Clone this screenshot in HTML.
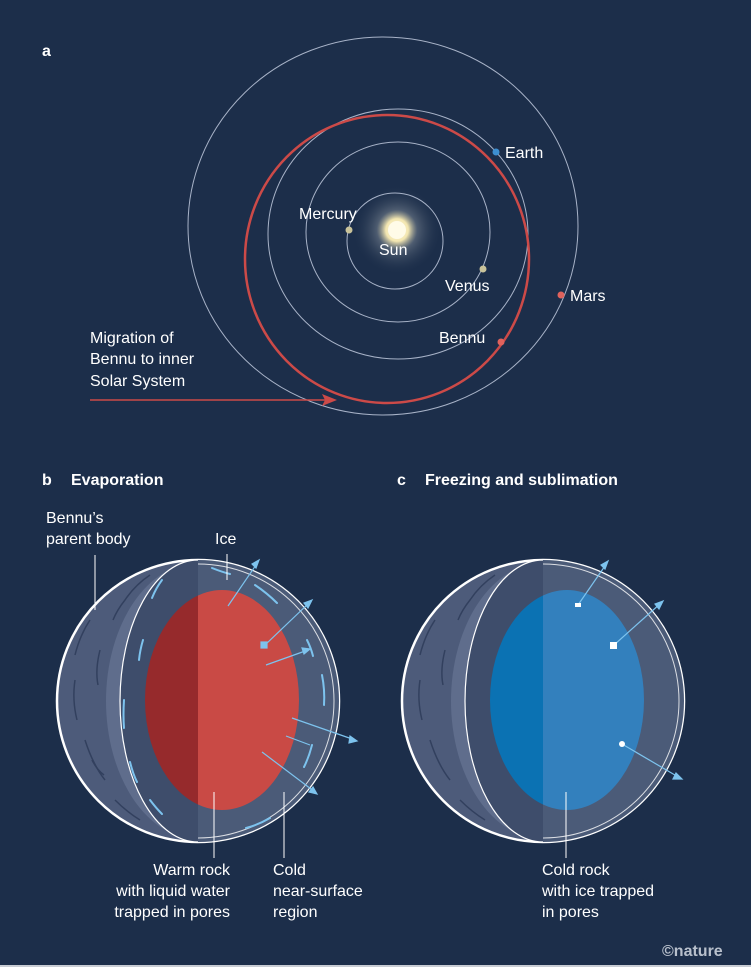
<!DOCTYPE html>
<html><head><meta charset="utf-8"><style>
html,body{margin:0;padding:0;background:#1c2e4a;}
svg{display:block}
text{font-family:"Liberation Sans",sans-serif;fill:#fff;font-size:16px}
.b{font-weight:bold}
</style></head><body>
<svg width="751" height="967" viewBox="0 0 751 967" xmlns="http://www.w3.org/2000/svg">
<defs>
<radialGradient id="glow" cx="0.5" cy="0.5" r="0.5">
<stop offset="0" stop-color="#fffbe0"/>
<stop offset="0.25" stop-color="#f3e6b0"/>
<stop offset="0.45" stop-color="#6f7b8a" stop-opacity="0.6"/>
<stop offset="1" stop-color="#1c2e4a" stop-opacity="0"/>
</radialGradient>
<clipPath id="lb"><rect x="0" y="0" width="198" height="967"/></clipPath>
<clipPath id="rb"><rect x="198" y="0" width="300" height="967"/></clipPath>
<clipPath id="lc"><rect x="0" y="0" width="543" height="967"/></clipPath>
<clipPath id="rc"><rect x="543" y="0" width="300" height="967"/></clipPath>
</defs>
<rect width="751" height="967" fill="#1c2e4a"/>
<rect x="0" y="965" width="751" height="2" fill="#c8ccd4"/>

<!-- panel a -->
<text x="42" y="56" class="b" font-size="17">a</text>
<circle cx="397" cy="230" r="45" fill="url(#glow)"/>
<circle cx="397" cy="230" r="9" fill="#fffbe8"/>
<g fill="none" stroke="#a8b3c8" stroke-width="1">
<ellipse cx="395" cy="241" rx="48" ry="48"/>
<ellipse cx="398" cy="232" rx="92" ry="90"/>
<ellipse cx="398" cy="234" rx="130" ry="125"/>
<ellipse cx="383" cy="226" rx="195" ry="189"/>
</g>
<ellipse cx="387" cy="259" rx="142" ry="144" fill="none" stroke="#cc4a48" stroke-width="2.5"/>
<line x1="90" y1="400" x2="325" y2="400" stroke="#cc4a48" stroke-width="1.5"/>
<polygon points="337,400 322,394 325,400 322,406" fill="#cc4a48"/>
<circle cx="496" cy="152" r="3.5" fill="#3d8fd1"/>
<circle cx="349" cy="230" r="3.5" fill="#c9c39a"/>
<circle cx="483" cy="269" r="3.5" fill="#c9c39a"/>
<circle cx="561" cy="295" r="3.5" fill="#e0625c"/>
<circle cx="501" cy="342" r="3.5" fill="#e0625c"/>
<text x="505" y="158">Earth</text>
<text x="299" y="219">Mercury</text>
<text x="379" y="255">Sun</text>
<text x="445" y="291">Venus</text>
<text x="570" y="301">Mars</text>
<text x="439" y="343">Bennu</text>
<text x="90" y="343">Migration of</text>
<text x="90" y="364">Bennu to inner</text>
<text x="90" y="386">Solar System</text>

<!-- panel b -->
<text x="42" y="485" class="b" font-size="17">b</text>
<text x="71" y="485" class="b" font-size="16">Evaporation</text>
<text x="46" y="523">Bennu’s</text>
<text x="46" y="544">parent body</text>
<text x="215" y="544">Ice</text>

<g>
<circle cx="198" cy="701" r="141" fill="#4d5b7a" stroke="#fff" stroke-width="2.5"/>
<path d="M198,563 A92,138 0 0 0 198,839 Z" fill="#5f6d8c"/>
<g stroke="#2c3a58" stroke-width="1.5" fill="none" opacity="0.8">
<path d="M150,575 q-15,10 -25,25 q-8,10 -12,20"/><path d="M90,620 q-10,15 -15,35"/>
<path d="M75,680 q-3,20 2,40"/><path d="M85,740 q8,25 20,40"/><path d="M115,800 q12,12 25,20"/>
<path d="M100,650 q-5,20 -2,35"/><path d="M92,760 q5,10 12,15"/>
</g>
<path d="M198,560 A78,141 0 0 0 198,842 A141,141 0 0 0 198,560 Z" fill="#3e4d6b" stroke="#fff" stroke-width="1.2"/>
<path d="M198,560 A141,141 0 0 1 198,842 Z" fill="#4b5b78"/>
<path d="M198,564 A136,137 0 0 1 198,838" fill="none" stroke="#fff" stroke-width="1" opacity="0.8"/>
<ellipse cx="222" cy="700" rx="77" ry="110" fill="#c94a45" clip-path="url(#rb)"/>
<ellipse cx="222" cy="700" rx="77" ry="110" fill="#962a2c" clip-path="url(#lb)"/>
<g stroke="#7dc3ee" stroke-width="2" fill="none" stroke-linecap="round">
<path d="M212,568 q10,4 18,6"/><path d="M255,585 q12,8 22,18"/><path d="M307,640 q4,8 6,16"/>
<path d="M322,675 q3,15 2,30"/><path d="M312,745 q-3,12 -8,22"/><path d="M270,818 q-12,7 -24,10"/>
<path d="M162,580 q-6,8 -10,18"/><path d="M143,640 q-3,10 -4,20"/><path d="M124,700 q-1,15 0,28"/>
<path d="M130,762 q3,12 7,20"/><path d="M150,800 q6,8 12,14"/>
</g>
<g stroke="#7dc3ee" stroke-width="1.2" fill="#7dc3ee">
<line x1="228" y1="606" x2="258" y2="562"/><polygon points="259,560 252,564 256,568"/>
<line x1="265" y1="645" x2="310" y2="602"/><polygon points="312,600 304,603 308,608"/>
<line x1="266" y1="665" x2="308" y2="650"/><polygon points="310,649 302,648 304,654"/>
<line x1="292" y1="718" x2="355" y2="740"/><polygon points="357,741 350,736 349,743"/>
<line x1="286" y1="736" x2="310" y2="745"/>
<line x1="262" y1="752" x2="315" y2="792"/><polygon points="317,794 313,787 309,792"/>
<rect x="261" y="642" width="6" height="6"/>
</g>
</g>
<line x1="95" y1="555" x2="95" y2="610" stroke="#fff" stroke-width="1"/>
<line x1="227" y1="554" x2="227" y2="580" stroke="#fff" stroke-width="1"/>
<line x1="214" y1="792" x2="214" y2="858" stroke="#fff" stroke-width="1"/>
<line x1="284" y1="792" x2="284" y2="858" stroke="#fff" stroke-width="1"/>
<text x="230" y="875" text-anchor="end">Warm rock</text>
<text x="230" y="896" text-anchor="end">with liquid water</text>
<text x="230" y="917" text-anchor="end">trapped in pores</text>
<text x="273" y="875">Cold</text>
<text x="273" y="896">near-surface</text>
<text x="273" y="917">region</text>

<!-- panel c -->
<text x="397" y="485" class="b" font-size="17">c</text>
<text x="425" y="485" class="b" font-size="16">Freezing and sublimation</text>
<g>
<circle cx="543" cy="701" r="141" fill="#4d5b7a" stroke="#fff" stroke-width="2.5"/>
<path d="M543,563 A92,138 0 0 0 543,839 Z" fill="#5f6d8c"/>
<g stroke="#2c3a58" stroke-width="1.5" fill="none" opacity="0.8">
<path d="M495,575 q-15,10 -25,25 q-8,10 -12,20"/><path d="M435,620 q-10,15 -15,35"/>
<path d="M420,680 q-3,20 2,40"/><path d="M430,740 q8,25 20,40"/><path d="M460,800 q12,12 25,20"/>
<path d="M445,650 q-5,20 -2,35"/>
</g>
<path d="M543,560 A78,141 0 0 0 543,842 A141,141 0 0 0 543,560 Z" fill="#3e4d6b" stroke="#fff" stroke-width="1.2"/>
<path d="M543,560 A141,141 0 0 1 543,842 Z" fill="#4b5b78"/>
<path d="M543,564 A136,137 0 0 1 543,838" fill="none" stroke="#fff" stroke-width="1" opacity="0.8"/>
<ellipse cx="567" cy="700" rx="77" ry="110" fill="#3380bd" clip-path="url(#rc)"/>
<ellipse cx="567" cy="700" rx="77" ry="110" fill="#0b72b3" clip-path="url(#lc)"/>
<g stroke="#7dc3ee" stroke-width="1.2" fill="#7dc3ee">
<line x1="578" y1="605" x2="607" y2="563"/><polygon points="608,561 601,565 605,569"/>
<line x1="614" y1="645" x2="661" y2="603"/><polygon points="663,601 655,604 659,609"/>
<line x1="622" y1="744" x2="680" y2="778"/><polygon points="682,779 676,773 673,779"/>
</g>
<rect x="575" y="603" width="6" height="4" fill="#fff"/>
<rect x="610" y="642" width="7" height="7" fill="#fff"/>
<circle cx="622" cy="744" r="3" fill="#fff"/>
</g>
<line x1="566" y1="792" x2="566" y2="858" stroke="#fff" stroke-width="1"/>
<text x="542" y="875">Cold rock</text>
<text x="542" y="896">with ice trapped</text>
<text x="542" y="917">in pores</text>

<text x="662" y="956" font-size="15" class="b" style="fill:#b8c0cc">©nature</text>
</svg>
</body></html>
